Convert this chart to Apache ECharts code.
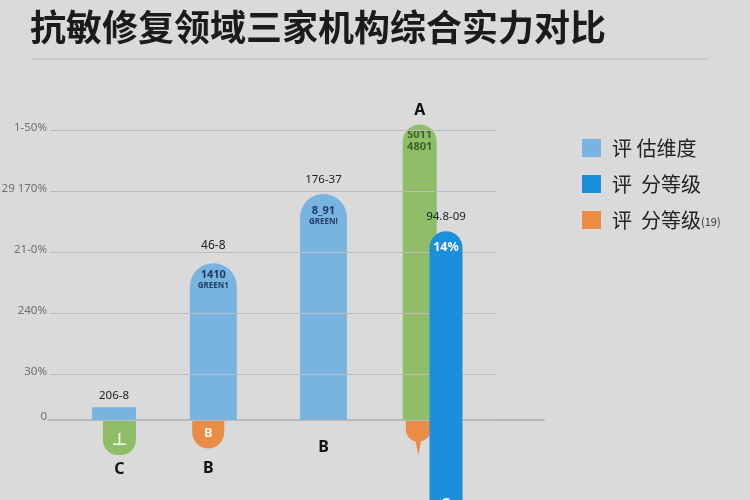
<!DOCTYPE html>
<html><head><meta charset="utf-8">
<script src="https://cdn.jsdelivr.net/npm/echarts@6/dist/echarts.min.js"></script>
<style>html,body{margin:0;padding:0;background:#dadada;}#c{width:750px;height:500px;}</style>
</head><body><div id="c"></div>
<script>
// ---------- data ----------
const chartTitle = '抗敏修复领域三家机构综合实力对比';
const grades = ['C', 'B', 'B', 'A'];
const tickValues = [0, 30, 70, 110, 150, 190];
const tickLabels = ['0', '30%', '240%', '21-0%', '29 170%', '1-50%'];
const legendNames = ['评 估维度', '评  分等级', '评  分等级(19)'];

const dimValues = [8.3, 103, 148.5, null];          // 评 估维度 (light blue)
const dimTopLabels = ['206-8', '46-8', '176-37', ''];
const dimCodeLabels = ['', '1410', '8_91', ''];
const dimTagLabels = ['', 'GREEN1', 'GREEN!', ''];

const scoreHigh = [null, null, null, 124];           // 评 分等级 (blue)
const scoreLowEnd = -80;                             // runs past the bottom of the picture
const scoreTopLabels = ['', '', '', '94.8-09'];
const scoreInnerLabels = ['', '', '', '14%'];
const scoreFootLabels = ['', '', '', 'S'];

const score19Values = [null, -18.6, null, -14.2];    // 评 分等级(19) (orange)
const score19Labels = ['', 'B', '', ''];

const overallValues = [-23, null, null, 194];        // green
const overallLabels = ['⊥', '', '', 'S011'];
const overallLabels2 = ['', '', '', '4801'];

// ---------- styles / layout ----------
const FONT = '"Noto Sans","Noto Sans CJK SC",sans-serif';
const C_LIGHT = '#79b3df', C_BLUE = '#1b8fda', C_ORANGE = '#ea8c45', C_GREEN = '#8fbd68';
const PX_PER_CAT = 106.33, FIRST_CENTER = 114, GA_LEFT = 48, GA_RIGHT_EDGE = 544;
const xMin = -(FIRST_CENTER - GA_LEFT) / PX_PER_CAT;
const xMax = xMin + (GA_RIGHT_EDGE - GA_LEFT) / PX_PER_CAT;
const PX_PER_UNIT = 1.5226, ZERO_Y = 420, Y_MAX = 200;
const Y_MIN = -(500 - ZERO_Y) / PX_PER_UNIT;
const gridTop = ZERO_Y - Y_MAX * PX_PER_UNIT;

function txt(text, from, dy, size, color, weight) {
  return { text, from, dy, size, color, weight: weight || 'normal' };
}

function barSeries(name, lows, highs, color, lay, z) {
  const data = [];
  highs.forEach((h, i) => { if (h == null) return; data.push([i, lows[i], h]); });
  return {
    type: 'custom', name, z, xAxisIndex: 0, yAxisIndex: 0,
    itemStyle: { color }, encode: { x: 0, y: [1, 2] }, data, clip: false,
    renderItem(params, api) {
      const i = api.value(0);
      const top = api.coord([i, api.value(2)]);
      const bot = api.coord([i, api.value(1)]);
      const zero = api.coord([i, 0]);
      const cx = top[0] + lay.dx[i];
      const w = lay.w[i];
      const children = [{
        type: 'rect',
        shape: { x: cx - w / 2, y: top[1], width: w, height: bot[1] - top[1], r: lay.r[i] },
        style: { fill: color }
      }];
      if (lay.drip && lay.drip[i]) {
        children.push({ type: 'polygon',
          shape: { points: [[cx - 3.5, bot[1] - 4], [cx + 3.5, bot[1] - 4], [cx, bot[1] + 14]] },
          style: { fill: color } });
      }
      (lay.texts[i] || []).forEach(t => {
        if (!t.text) return;
        const base = t.from === 'top' ? top[1] : (t.from === 'bottom' ? bot[1] : zero[1]);
        children.push({ type: 'text', x: cx, y: base + t.dy, z2: 10,
          style: { text: t.text, fill: t.color, fontSize: t.size, fontWeight: t.weight,
                   fontFamily: FONT, align: 'center', verticalAlign: 'middle' } });
      });
      return { type: 'group', children };
    }
  };
}

const dimLow = dimValues.map(v => v == null ? null : 0);
const scoreLow = scoreHigh.map(v => v == null ? null : scoreLowEnd);
const s19High = score19Values.map(v => v == null ? null : 0);
const ovLow = overallValues.map(v => v == null ? null : Math.min(0, v));
const ovHigh = overallValues.map(v => v == null ? null : Math.max(0, v));

const dimLayout = {
  dx: [0, -7, -3.2, 0], w: [44, 47, 47, 0],
  r: [[1, 1, 0, 0], [23.5, 23.5, 0, 0], [23.5, 23.5, 0, 0], 0],
  texts: [
    [txt(dimTopLabels[0], 'top', -12, 11.5, '#222')],
    [txt(dimTopLabels[1], 'top', -18, 12, '#222'),
     txt(dimCodeLabels[1], 'top', 12, 11, '#1d3c63', 'bold'),
     txt(dimTagLabels[1], 'top', 23, 8, '#1d3c63', 'bold')],
    [txt(dimTopLabels[2], 'top', -14, 11.5, '#222'),
     txt(dimCodeLabels[2], 'top', 17, 11, '#1d3c63', 'bold'),
     txt(dimTagLabels[2], 'top', 28, 8, '#1d3c63', 'bold'),
     txt(grades[2], 'zero', 27, 16, '#111', 'bold')],
    []
  ]
};
const scoreLayout = {
  dx: [0, 0, 0, 13], w: [0, 0, 0, 33], r: [0, 0, 0, [16.5, 16.5, 0, 0]],
  texts: [[], [], [], [
    txt(scoreTopLabels[3], 'top', -14, 11.5, '#222'),
    txt(scoreInnerLabels[3], 'top', 16, 12.5, '#ffffff', 'bold'),
    txt(scoreFootLabels[3], 'zero', 85, 16, '#ffffff', 'bold')
  ]]
};
const s19Layout = {
  dx: [0, -12.1, 0, -14.7], w: [0, 32, 0, 25],
  r: [0, [0, 0, 16, 16], 0, [0, 0, 12, 12]],
  drip: [false, false, false, true],
  texts: [[], [
    txt(score19Labels[1], 'zero', 13, 13, '#fff3e6', 'bold'),
    txt(grades[1], 'bottom', 20, 16, '#111', 'bold')
  ], [], []]
};
const ovLayout = {
  dx: [5.4, 0, 0, -13.3], w: [33, 0, 0, 34],
  r: [[0, 0, 15, 15], 0, 0, [17, 17, 0, 0]],
  texts: [
    [txt(overallLabels[0], 'zero', 20, 16, '#f4f4f4', 'bold'),
     txt(grades[0], 'bottom', 14, 16, '#111', 'bold')],
    [], [],
    [txt(grades[3], 'top', -14, 16, '#111', 'bold'),
     txt(overallLabels[3], 'top', 10, 11, '#3a6428', 'bold'),
     txt(overallLabels2[3], 'top', 22, 11, '#3a6428', 'bold')]
  ]
};

const chart = echarts.init(document.getElementById('c'));
chart.setOption({
  backgroundColor: '#dadada',
  animation: false,
  title: {
    text: chartTitle, left: 30, top: 9, padding: 0,
    textStyle: { fontSize: 36, fontWeight: 'bold', color: '#1b1b1b', fontFamily: '"Noto Sans CJK SC",sans-serif' }
  },
  graphic: [{ type: 'line', shape: { x1: 31, y1: 59, x2: 709, y2: 59 }, style: { stroke: '#bdbdbd', lineWidth: 1.2 } }],
  legend: {
    data: legendNames, orient: 'vertical', left: 582, top: 138, padding: 0, icon: 'rect',
    itemWidth: 19, itemHeight: 18, itemGap: 16,
    formatter: n => n.replace('(19)', '{s|(19)}'),
    textStyle: { fontSize: 20, color: '#222', fontFamily: '"Noto Sans CJK SC",sans-serif', padding: [0, 0, 0, 6],
                 rich: { s: { fontSize: 11, color: '#333', padding: [4, 0, 0, 0] } } }
  },
  grid: [
    { left: GA_LEFT, right: 750 - GA_RIGHT_EDGE, top: gridTop, bottom: 0 },
    { left: 50, right: 750 - 496, top: gridTop, bottom: 0 }
  ],
  xAxis: [
    { gridIndex: 0, type: 'value', min: xMin, max: xMax,
      axisLine: { show: true, onZero: true, lineStyle: { color: '#a9a9a9', width: 1.5 } },
      axisTick: { show: false }, axisLabel: { show: false }, splitLine: { show: false } },
    { gridIndex: 1, type: 'value', min: 0, max: 1, show: false }
  ],
  yAxis: [
    { gridIndex: 0, type: 'value', min: Y_MIN, max: Y_MAX, show: false, splitLine: { show: false } },
    { gridIndex: 1, type: 'value', min: Y_MIN, max: Y_MAX, show: false, splitLine: { show: false } }
  ],
  series: [
    { type: 'line', xAxisIndex: 1, yAxisIndex: 1, data: [], silent: true, z: 1,
      markLine: {
        silent: true, symbol: ['none', 'none'], animation: false,
        lineStyle: { color: '#bcbcbc', type: 'solid', width: 1 },
        label: { position: 'start', color: '#6e6e6e', fontSize: 11.5, fontFamily: FONT, distance: 3,
                 verticalAlign: 'bottom', lineHeight: 6 },
        data: tickValues.map((v, i) => ({ yAxis: v, label: { formatter: tickLabels[i] } }))
      } },
    barSeries('综合', ovLow, ovHigh, C_GREEN, ovLayout, 2),
    barSeries(legendNames[2], score19Values, s19High, C_ORANGE, s19Layout, 3),
    barSeries(legendNames[0], dimLow, dimValues, C_LIGHT, dimLayout, 4),
    barSeries(legendNames[1], scoreLow, scoreHigh, C_BLUE, scoreLayout, 5)
  ]
});
</script></body></html>
